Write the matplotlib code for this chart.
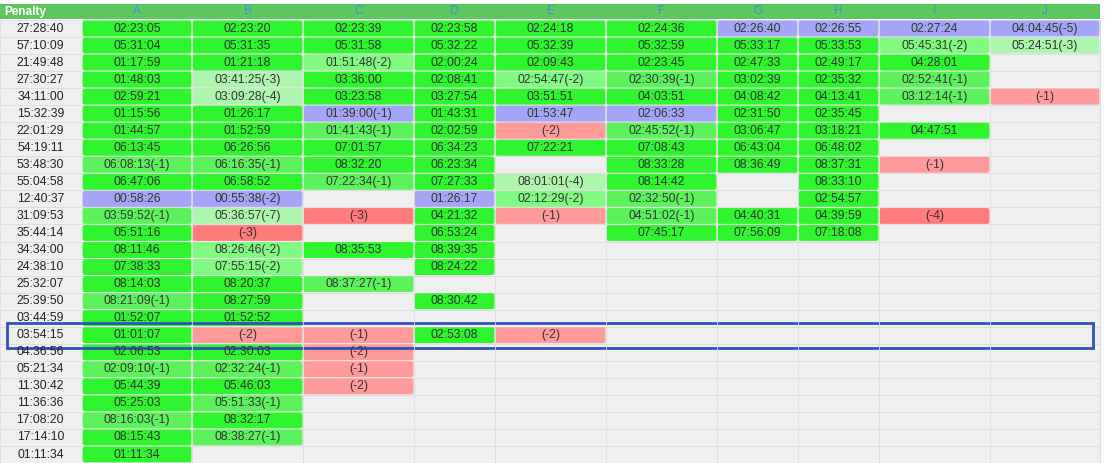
import matplotlib.pyplot as plt
from matplotlib.patches import FancyBboxPatch, Rectangle

problems = ["A", "B", "C", "D", "E", "F", "G", "H", "I", "J"]
penalty = ["27:28:40", "57:10:09", "21:49:48", "27:30:27", "34:11:00", "15:32:39",
           "22:01:29", "54:19:11", "53:48:30", "55:04:58", "12:40:37", "31:09:53",
           "35:44:14", "34:34:00", "24:38:10", "25:32:07", "25:39:50", "03:44:59",
           "03:54:15", "04:36:56", "05:21:34", "11:30:42", "11:36:36", "17:08:20",
           "17:14:10", "01:11:34"]
cells = [
    ["02:23:05", "02:23:20", "02:23:39", "02:23:58", "02:24:18", "02:24:36", "02:26:40", "02:26:55", "02:27:24", "04:04:45(-5)"],
    ["05:31:04", "05:31:35", "05:31:58", "05:32:22", "05:32:39", "05:32:59", "05:33:17", "05:33:53", "05:45:31(-2)", "05:24:51(-3)"],
    ["01:17:59", "01:21:18", "01:51:48(-2)", "02:00:24", "02:09:43", "02:23:45", "02:47:33", "02:49:17", "04:28:01", ""],
    ["01:48:03", "03:41:25(-3)", "03:36:00", "02:08:41", "02:54:47(-2)", "02:30:39(-1)", "03:02:39", "02:35:32", "02:52:41(-1)", ""],
    ["02:59:21", "03:09:28(-4)", "03:23:58", "03:27:54", "03:51:51", "04:03:51", "04:08:42", "04:13:41", "03:12:14(-1)", "(-1)"],
    ["01:15:56", "01:26:17", "01:39:00(-1)", "01:43:31", "01:53:47", "02:06:33", "02:31:50", "02:35:45", "", ""],
    ["01:44:57", "01:52:59", "01:41:43(-1)", "02:02:59", "(-2)", "02:45:52(-1)", "03:06:47", "03:18:21", "04:47:51", ""],
    ["06:13:45", "06:26:56", "07:01:57", "06:34:23", "07:22:21", "07:08:43", "06:43:04", "06:48:02", "", ""],
    ["06:08:13(-1)", "06:16:35(-1)", "08:32:20", "06:23:34", "", "08:33:28", "08:36:49", "08:37:31", "(-1)", ""],
    ["06:47:06", "06:58:52", "07:22:34(-1)", "07:27:33", "08:01:01(-4)", "08:14:42", "", "08:33:10", "", ""],
    ["00:58:26", "00:55:38(-2)", "", "01:26:17", "02:12:29(-2)", "02:32:50(-1)", "", "02:54:57", "", ""],
    ["03:59:52(-1)", "05:36:57(-7)", "(-3)", "04:21:32", "(-1)", "04:51:02(-1)", "04:40:31", "04:39:59", "(-4)", ""],
    ["05:51:16", "(-3)", "", "06:53:24", "", "07:45:17", "07:56:09", "07:18:08", "", ""],
    ["08:11:46", "08:26:46(-2)", "08:35:53", "08:39:35", "", "", "", "", "", ""],
    ["07:38:33", "07:55:15(-2)", "", "08:24:22", "", "", "", "", "", ""],
    ["08:14:03", "08:20:37", "08:37:27(-1)", "", "", "", "", "", "", ""],
    ["08:21:09(-1)", "08:27:59", "", "08:30:42", "", "", "", "", "", ""],
    ["01:52:07", "01:52:52", "", "", "", "", "", "", "", ""],
    ["01:01:07", "(-2)", "(-1)", "02:53:08", "(-2)", "", "", "", "", ""],
    ["02:06:53", "02:30:03", "(-2)", "", "", "", "", "", "", ""],
    ["02:09:10(-1)", "02:32:24(-1)", "(-1)", "", "", "", "", "", "", ""],
    ["05:44:39", "05:46:03", "(-2)", "", "", "", "", "", "", ""],
    ["05:25:03", "05:51:33(-1)", "", "", "", "", "", "", "", ""],
    ["08:16:03(-1)", "08:32:17", "", "", "", "", "", "", "", ""],
    ["08:15:43", "08:38:27(-1)", "", "", "", "", "", "", "", ""],
    ["01:11:34", "", "", "", "", "", "", "", "", ""],
]
# first solves (row, column)
first_solve = [(0, 6), (0, 7), (0, 8), (0, 9), (5, 2), (5, 4), (5, 5), (10, 0), (10, 1), (10, 3)]
highlight_row = 18

col_edges = [82, 192, 303, 414, 495, 606, 717, 798, 879, 990, 1100]
top, row_h = 20, 17.04


def cell_color(text, row, col):
    if (row, col) in first_solve:
        return "#a5a5f7"
    tries = 0
    if "(-" in text:
        tries = int(text.split("(-")[1].rstrip(")"))
    if text.startswith("("):
        return "#ff7b7b" if tries >= 3 else "#ff9a9a"
    if tries == 0:
        return "#2ff52f"
    if tries == 1:
        return "#5cf25c"
    if tries == 2:
        return "#80fa80"
    return "#aef5ae"


fig = plt.figure(figsize=(11.08, 4.63), dpi=100)
ax = fig.add_axes([0, 0, 1, 1])
ax.set_xlim(0, 1108)
ax.set_ylim(463, 0)
ax.axis("off")
fig.patch.set_facecolor("white")
plt.rcParams["font.family"] = ["Liberation Sans", "DejaVu Sans"]

# header
ax.add_patch(Rectangle((0, 4), 1100, 15, color="#5ec65e", lw=0))
ax.text(4, 11.5, "Penalty", color="white", fontsize=8.5, fontweight="bold", va="center")
for j, p in enumerate(problems):
    ax.text((col_edges[j] + col_edges[j + 1]) / 2, 11.5, p, color="#3f8fd6",
            fontsize=8.5, ha="center", va="center")

for i, pen in enumerate(penalty):
    y0 = top + i * row_h
    ax.add_patch(Rectangle((0, y0), 1100, row_h, facecolor="#efefef", edgecolor="#dcdcdc", lw=0.6))
    ax.text(64, y0 + row_h / 2, pen, ha="right", va="center", fontsize=8.8, color="#222222")
    for j in range(len(problems)):
        x0, x1 = col_edges[j], col_edges[j + 1]
        ax.plot([x1, x1], [y0, y0 + row_h], color="#dcdcdc", lw=0.6)
        txt = cells[i][j]
        if not txt:
            continue
        ax.add_patch(FancyBboxPatch((x0 + 0.6, y0 + 0.6), x1 - x0 - 1.2, row_h - 1.2,
                                    boxstyle="round,pad=0,rounding_size=2",
                                    facecolor=cell_color(txt, i, j), edgecolor="none"))
        ax.text((x0 + x1) / 2, y0 + row_h / 2, txt, ha="center", va="center",
                fontsize=8.8, color="#333333")

yh = top + highlight_row * row_h
ax.add_patch(Rectangle((7, yh - 4), 1086, row_h + 8, fill=False, edgecolor="#3050c0", lw=2))

fig.savefig("out.png", dpi=100)
